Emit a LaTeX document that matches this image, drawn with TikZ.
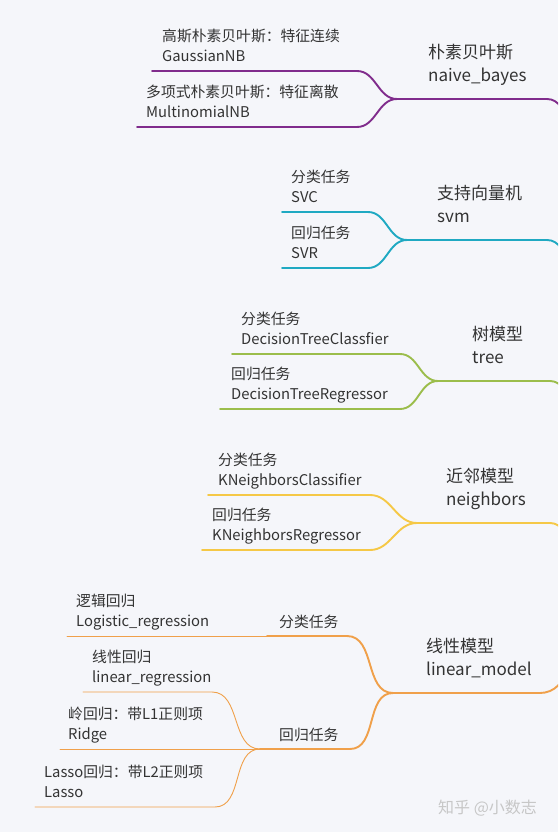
\documentclass[tikz,border=0pt]{standalone}
\usepackage{fontspec}
\setmainfont{Noto Sans CJK SC}
\usepackage{xcolor}
\usetikzlibrary{positioning}
\definecolor{bgc}{RGB}{245,246,250}
\definecolor{txt}{RGB}{51,51,51}
\definecolor{nbcol}{RGB}{128,44,140}
\definecolor{svmcol}{RGB}{31,169,194}
\definecolor{treecol}{RGB}{155,189,75}
\definecolor{knncol}{RGB}{245,200,70}
\definecolor{lmcol}{RGB}{240,160,74}

\begin{document}
\begin{tikzpicture}[x=1pt, y=-1pt,
        leaf/.style={inner sep=0pt, align=left, text=txt, font=\fontsize{14.8}{20}\selectfont},
        topic/.style={inner sep=0pt, align=left, text=txt, font=\fontsize{17}{23}\selectfont},
        branch/.style={line width=1.9pt, line cap=round},
        twig/.style={line width=0.9pt, line cap=round}
    ]
        \fill[bgc] (0,0) rectangle (558,832);
        \clip (0,0) rectangle (558,832);

        % naive_bayes
        \coordinate (nb) at (397,99);
        \coordinate (nb-e) at (547,99);
        \coordinate (nb-out) at (566,124);
        \coordinate (gauss) at (152,71);
        \coordinate (gauss-e) at (357,71);
        \coordinate (multi) at (137,127);
        \coordinate (multi-e) at (357,127);
        \node[topic, above right=10pt and 31pt of nb] (nb-t) {\strut 朴素贝叶斯\\\strut naive\_bayes};
        \node[leaf, above right=3pt and 10pt of gauss] (gauss-t) {\strut 高斯朴素贝叶斯：特征连续\\\strut GaussianNB};
        \node[leaf, above right=3pt and 9pt of multi] (multi-t) {\strut 多项式朴素贝叶斯：特征离散\\\strut MultinomialNB};
        \draw[branch, nbcol] (nb) -- (nb-e) to[out=0, in=95] (nb-out);
        \draw[branch, nbcol] (gauss) -- (gauss-e) to[out=0, in=180] (nb);
        \draw[branch, nbcol] (multi) -- (multi-e) to[out=0, in=180] (nb);

        % svm
        \coordinate (svm) at (407,240);
        \coordinate (svm-e) at (547,240);
        \coordinate (svm-out) at (566,265);
        \coordinate (svc) at (282,212);
        \coordinate (svc-e) at (368,212);
        \coordinate (svr) at (282,268);
        \coordinate (svr-e) at (368,268);
        \node[topic, above right=10pt and 30pt of svm] (svm-t) {\strut 支持向量机\\\strut svm};
        \node[leaf, above right=3pt and 9pt of svc] (svc-t) {\strut 分类任务\\\strut SVC};
        \node[leaf, above right=3pt and 9pt of svr] (svr-t) {\strut 回归任务\\\strut SVR};
        \draw[branch, svmcol] (svm) -- (svm-e) to[out=0, in=95] (svm-out);
        \draw[branch, svmcol] (svc) -- (svc-e) to[out=0, in=180] (svm);
        \draw[branch, svmcol] (svr) -- (svr-e) to[out=0, in=180] (svm);

        % tree
        \coordinate (tree) at (438,381);
        \coordinate (tree-e) at (550,381);
        \coordinate (tree-out) at (568,405);
        \coordinate (dtc) at (232,354);
        \coordinate (dtc-e) at (400,354);
        \coordinate (dtr) at (220,409);
        \coordinate (dtr-e) at (400,409);
        \node[topic, above right=10pt and 34pt of tree] (tree-t) {\strut 树模型\\\strut tree};
        \node[leaf, above right=3pt and 9pt of dtc] (dtc-t) {\strut 分类任务\\\strut DecisionTreeClassfier};
        \node[leaf, above right=3pt and 11pt of dtr] (dtr-t) {\strut 回归任务\\\strut DecisionTreeRegressor};
        \draw[branch, treecol] (tree) -- (tree-e) to[out=0, in=95] (tree-out);
        \draw[branch, treecol] (dtc) -- (dtc-e) to[out=0, in=180] (tree);
        \draw[branch, treecol] (dtr) -- (dtr-e) to[out=0, in=180] (tree);

        % neighbors
        \coordinate (knn) at (417,523);
        \coordinate (knn-e) at (550,523);
        \coordinate (knn-out) at (568,547);
        \coordinate (knc) at (208,495);
        \coordinate (knc-e) at (370,495);
        \coordinate (knr) at (202,550);
        \coordinate (knr-e) at (370,550);
        \node[topic, above right=10pt and 29pt of knn] (knn-t) {\strut 近邻模型\\\strut neighbors};
        \node[leaf, above right=3pt and 10pt of knc] (knc-t) {\strut 分类任务\\\strut KNeighborsClassifier};
        \node[leaf, above right=3pt and 10pt of knr] (knr-t) {\strut 回归任务\\\strut KNeighborsRegressor};
        \draw[branch, knncol] (knn) -- (knn-e) to[out=0, in=95] (knn-out);
        \draw[branch, knncol] (knc) -- (knc-e) to[out=0, in=180] (knn);
        \draw[branch, knncol] (knr) -- (knr-e) to[out=0, in=180] (knn);

        % linear_model
        \coordinate (lm) at (393,693);
        \coordinate (lm-e) at (540,693);
        \coordinate (lm-out) at (566,668);
        \coordinate (cls) at (267,636);
        \coordinate (cls-e) at (347,636);
        \coordinate (reg) at (260,749);
        \coordinate (reg-e) at (350,749);
        \coordinate (logit) at (67,636);
        \coordinate (linreg) at (83,692);
        \coordinate (linreg-e) at (212,692);
        \coordinate (ridge) at (60,749);
        \coordinate (lasso) at (35,807);
        \coordinate (lasso-e) at (215,807);
        \node[topic, above right=10pt and 33pt of lm] (lm-t) {\strut 线性模型\\\strut linear\_model};
        \node[leaf, above right=2pt and 12pt of cls] (cls-t) {\strut 分类任务};
        \node[leaf, above right=2pt and 19pt of reg] (reg-t) {\strut 回归任务};
        \node[leaf, above right=3pt and 9pt of logit] (logit-t) {\strut 逻辑回归\\\strut Logistic\_regression};
        \node[leaf, above right=3pt and 9pt of linreg] (linreg-t) {\strut 线性回归\\\strut linear\_regression};
        \node[leaf, above right=3pt and 8pt of ridge] (ridge-t) {\strut 岭回归：带L1正则项\\\strut Ridge};
        \node[leaf, above right=3pt and 9pt of lasso] (lasso-t) {\strut Lasso回归：带L2正则项\\\strut Lasso};
        \draw[branch, lmcol] (lm) -- (lm-e) to[out=0, in=-95] (lm-out);
        \draw[branch, lmcol] (cls) -- (cls-e) to[out=0, in=180] (lm);
        \draw[branch, lmcol] (reg) -- (reg-e) to[out=0, in=180] (lm);
        \draw[twig, lmcol] (logit) -- (cls);
        \draw[twig, lmcol] (ridge) -- (reg);
        \draw[twig, lmcol] (linreg) -- (linreg-e) to[out=0, in=180] (reg);
        \draw[twig, lmcol] (lasso) -- (lasso-e) to[out=0, in=180] (reg);

        % watermark
        \node[inner sep=0pt, anchor=west, text=black!22, font=\fontsize{16}{20}\selectfont] (zhihu) at (438,808) {知乎 @小数志};
    \end{tikzpicture}
\end{document}
